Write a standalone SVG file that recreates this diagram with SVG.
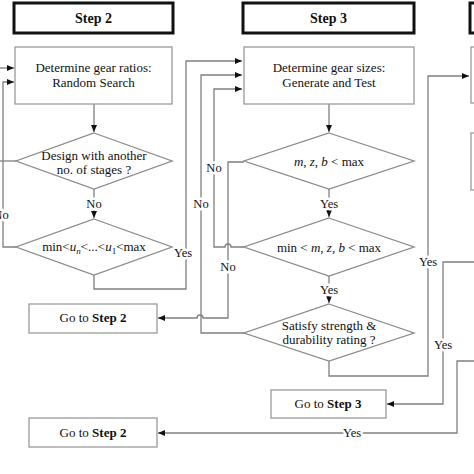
<svg xmlns="http://www.w3.org/2000/svg" width="474" height="474" viewBox="0 0 474 474" font-family="'Liberation Serif', 'Times New Roman', Times, serif">
<style>
text{font-size:13px;fill:#111;text-anchor:middle}
.hdr{fill:#fff;stroke:#111;stroke-width:3}
.hdrt{font-weight:bold;font-size:14px}
.box{fill:#fff;stroke:#9a9a9a;stroke-width:1.3}
.dia{fill:#fff;stroke:#8a8a8a;stroke-width:1.3}
.ln{fill:none;stroke:#7f7f7f;stroke-width:1.3}
.lbl{font-size:12.5px;paint-order:stroke;stroke:#fff;stroke-width:5px;stroke-linejoin:round}
.i{font-style:italic}
.b{font-weight:bold}
</style>
<defs>
<marker id="ah" markerUnits="userSpaceOnUse" markerWidth="8" markerHeight="7" refX="7" refY="3" orient="auto">
<path d="M0,0 L7,3 L0,6 z" fill="#111"/>
</marker>
</defs>
<rect width="474" height="474" fill="#fff"/>

<g id="connectors">
<path class="ln" d="M94,104 V132" marker-end="url(#ah)"/>
<path class="ln" d="M94,189 V218" marker-end="url(#ah)"/>
<path class="ln" d="M16,161 H0"/>
<path class="ln" d="M0,68 H14" marker-end="url(#ah)"/>
<path class="ln" d="M16,247 H3 V82 H14" marker-end="url(#ah)"/>
<path class="ln" d="M94,275 V289 H186 V61 H242" marker-end="url(#ah)"/>
<path class="ln" d="M329,104 V132" marker-end="url(#ah)"/>
<path class="ln" d="M329,189 V217" marker-end="url(#ah)"/>
<path class="ln" d="M329,276 V303" marker-end="url(#ah)"/>
<path class="ln" d="M244,162 H228 V318 H203 A3,3 0 0 0 197,318 H158" marker-end="url(#ah)"/>
<path class="ln" d="M244,247 H231 A3,3 0 0 0 225,247 H214 V89 H242" marker-end="url(#ah)"/>
<path class="ln" d="M244,333 H201 V75 H242" marker-end="url(#ah)"/>
<path class="ln" d="M329,361 V376 H428 V76 H469" marker-end="url(#ah)"/>
<path class="ln" d="M474,262 H443 V404 H387" marker-end="url(#ah)"/>
<path class="ln" d="M474,361 H457 V433 H158" marker-end="url(#ah)"/>
<text class="lbl" x="94" y="208">No</text>
<text class="lbl" x="1" y="219">No</text>
<text class="lbl" x="183" y="257">Yes</text>
<text class="lbl" x="329" y="208">Yes</text>
<text class="lbl" x="329" y="294">Yes</text>
<text class="lbl" x="214" y="172">No</text>
<text class="lbl" x="201" y="208">No</text>
<text class="lbl" x="228" y="271">No</text>
<text class="lbl" x="428" y="266">Yes</text>
<text class="lbl" x="443" y="349">Yes</text>
<text class="lbl" x="352" y="437">Yes</text>
</g>

<g id="step2-header">
<rect class="hdr" x="14" y="3" width="159" height="30"/>
<text class="hdrt" x="93.5" y="23">Step 2</text>
</g>
<g id="step3-header">
<rect class="hdr" x="243" y="3" width="171" height="30"/>
<text class="hdrt" x="328.5" y="23">Step 3</text>
</g>
<g id="step4-header">
<rect class="hdr" x="470" y="3" width="60" height="30"/>
</g>

<g id="gear-ratios">
<rect class="box" x="15" y="47" width="157" height="57"/>
<text x="93.5" y="72">Determine gear ratios:</text>
<text x="93.5" y="87">Random Search</text>
</g>
<g id="another-stages">
<polygon class="dia" points="94,133 172,161 94,189 16,161"/>
<text x="94" y="160">Design with another</text>
<text x="94" y="174">no. of stages ?</text>
</g>
<g id="ratio-range">
<polygon class="dia" points="94,219 172,247 94,275 16,247"/>
<text x="94" y="251">min&lt;<tspan class="i">u</tspan><tspan class="i" font-size="9" dy="3">n</tspan><tspan dy="-3">&lt;...&lt;</tspan><tspan class="i">u</tspan><tspan font-size="9" dy="3">1</tspan><tspan dy="-3">&lt;max</tspan></text>
</g>
<g id="goto-step2-a">
<rect class="box" x="29" y="304" width="128" height="29"/>
<text x="93" y="322">Go to <tspan class="b">Step 2</tspan></text>
</g>
<g id="goto-step2-b">
<rect class="box" x="29" y="418" width="128" height="29"/>
<text x="93" y="437">Go to <tspan class="b">Step 2</tspan></text>
</g>

<g id="gear-sizes">
<rect class="box" x="244" y="47" width="170" height="57"/>
<text x="329" y="72">Determine gear sizes:</text>
<text x="329" y="87">Generate and Test</text>
</g>
<g id="max-check">
<polygon class="dia" points="329,133 414,161 329,189 244,161"/>
<text x="329" y="166"><tspan class="i">m</tspan>, <tspan class="i">z</tspan>, <tspan class="i">b</tspan> &lt; max</text>
</g>
<g id="range-check">
<polygon class="dia" points="329,218 414,247 329,276 244,247"/>
<text x="329" y="252">min &lt; <tspan class="i">m</tspan>, <tspan class="i">z</tspan>, <tspan class="i">b</tspan> &lt; max</text>
</g>
<g id="strength-check">
<polygon class="dia" points="329,304 414,333 329,361 244,333"/>
<text x="329" y="330">Satisfy strength &amp;</text>
<text x="329" y="344">durability rating ?</text>
</g>
<g id="goto-step3">
<rect class="box" x="271" y="390" width="115" height="28"/>
<text x="328" y="408">Go to <tspan class="b">Step 3</tspan></text>
</g>

<g id="step4-box1">
<rect class="box" x="471" y="47" width="60" height="56"/>
</g>
<g id="step4-box2">
<rect class="box" x="471" y="133" width="60" height="57"/>
</g>
</svg>
